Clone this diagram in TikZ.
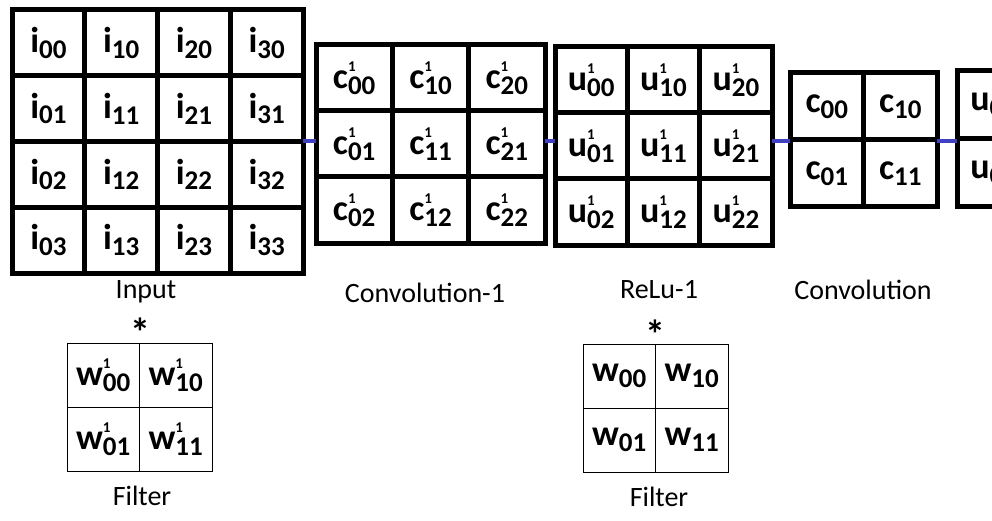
\documentclass[tikz,border=0pt]{standalone}
\usepackage{fontspec}
\setmainfont{Carlito}
\newcommand{\cl}[3]{#1\makebox[0pt][l]{\raisebox{1.0ex}{\fontsize{15}{15}\selectfont #3}}\raisebox{-0.32ex}{\fontsize{27}{27}\selectfont #2}}
\newcommand{\mygrid}[9]{%
  \pgfmathsetmacro\gw{(#4-#2)/#6}\pgfmathsetmacro\gh{(#5-#3)/#7}
  \node[draw,line width=#8,minimum width={#4-#2},minimum height={#5-#3},inner sep=0,outer sep=0] (#1) at ({(#2+#4)/2},{(#3+#5)/2}) {};
  \foreach \c in {1,...,#6}{\ifnum\c<#6\draw[line width=#8] ({#2+\c*\gw},#3) -- ({#2+\c*\gw},#5);\fi}
  \foreach \r in {1,...,#7}{\ifnum\r<#7\draw[line width=#8] (#2,{#3+\r*\gh}) -- (#4,{#3+\r*\gh});\fi}
  \foreach \c in {0,...,\numexpr#6-1}{\foreach \r in {0,...,\numexpr#7-1}{
    \node[cell] (#1-\c-\r) at ({#2+(\c+0.5)*\gw},{#3+(\r+0.5)*\gh}) {#9};}}}
\tikzset{cell/.style={font=\bfseries\fontsize{36}{36}\selectfont,inner sep=0},
  lbl/.style={font=\fontsize{28}{28}\selectfont,inner sep=0},
  star/.style={font=\bfseries\fontsize{40}{40}\selectfont,inner sep=0},
  conn/.style={draw={rgb,255:red,64;green,64;blue,192},line width=4pt}}
\begin{document}
\begin{tikzpicture}[x=1pt,y=-1pt]
\useasboundingbox (0,0) rectangle (992,521);
\clip (0,0) rectangle (992,521);
\mygrid{g1}{12}{10}{303}{273}{4}{4}{5pt}{\cl{i}{\c\r}{}}
\mygrid{g2}{316}{45}{545}{243}{3}{3}{5pt}{\cl{c}{\c\r}{1}}
\mygrid{g3}{555}{47}{772}{245}{3}{3}{5pt}{\cl{u}{\c\r}{1}}
\mygrid{g4}{790}{73}{937}{207}{2}{2}{5pt}{\cl{c}{\c\r}{}}
\mygrid{g5}{957}{71}{1104}{207}{2}{2}{5pt}{\cl{u}{\c\r}{}}
\mygrid{f1}{67}{343}{212}{471}{2}{2}{0.8pt}{\cl{w}{\c\r}{1}}
\mygrid{f2}{583}{344}{728}{472}{2}{2}{0.8pt}{\cl{w}{\c\r}{}}
\foreach \a/\b in {g1/g2,g2/g3,g3/g4,g4/g5}
  \draw[conn] (\a.east |- 0,141) -- (\b.west |- 0,141);
\node[lbl] (t1) at (146,292) {Input};
\node[star] (s1) at (140,332) {*};
\node[lbl] (t2) at (425,293) {Convolution-1};
\node[lbl] (t3) at (659,290) {ReLu-1};
\node[star] (s2) at (655,334) {*};
\node[lbl] (t4) at (863,290) {Convolution};
\node[lbl] (t5) at (142,496) {Filter};
\node[lbl] (t6) at (659,497) {Filter};
\end{tikzpicture}
\end{document}
